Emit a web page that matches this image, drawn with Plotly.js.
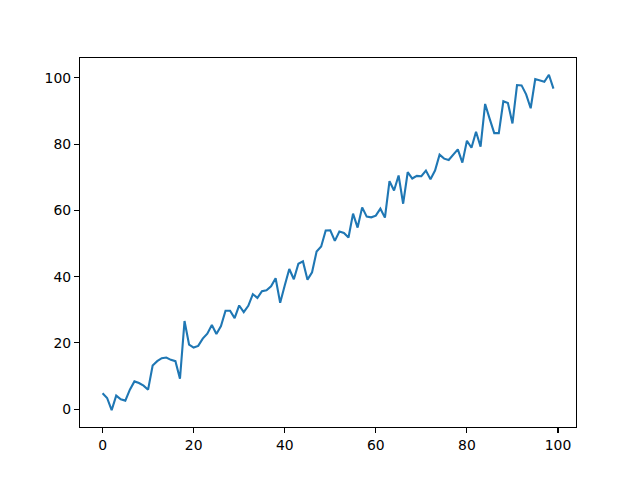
<!DOCTYPE html>
<html>
<head>
<meta charset="utf-8">
<script src="https://cdn.plot.ly/plotly-3.0.1.min.js"></script>
<style>html,body{margin:0;padding:0;background:#fff;}#chart{width:640px;height:480px;}</style>
</head>
<body>
<div id="chart"></div>
<script>
const xValues = Array.from({length: 100}, (_, i) => i);
const yValues = [
  4.8, 3.4, -0.3, 4.1, 3.0, 2.6, 5.9, 8.4, 7.9, 7.1,
  5.9, 13.2, 14.5, 15.4, 15.6, 14.9, 14.5, 9.2, 26.6, 19.5,
  18.6, 19.1, 21.3, 22.8, 25.4, 22.7, 25.1, 29.7, 29.7, 27.5,
  31.3, 29.3, 31.2, 34.7, 33.6, 35.6, 35.9, 37.1, 39.5, 32.1,
  37.3, 42.3, 39.2, 43.9, 44.6, 39.1, 41.3, 47.6, 49.1, 53.9,
  54.0, 50.8, 53.6, 53.2, 51.8, 59.0, 54.8, 60.9, 58.1, 57.9,
  58.4, 60.5, 57.8, 68.8, 66.0, 70.5, 62.0, 71.5, 69.6, 70.4,
  70.3, 72.0, 69.4, 72.0, 76.8, 75.6, 75.2, 76.9, 78.4, 74.4,
  81.0, 78.9, 83.7, 79.2, 92.1, 87.6, 83.3, 83.3, 92.9, 92.4,
  86.2, 97.8, 97.7, 95.0, 90.8, 99.6, 99.2, 98.8, 100.9, 96.7
];
const xTicks = [0, 20, 40, 60, 80, 100];
const yTicks = [0, 20, 40, 60, 80, 100];

const trace = {
  x: xValues, y: yValues, type: 'scatter', mode: 'lines',
  line: {color: '#1f77b4', width: 2.1}
};
const axisCommon = {
  showgrid: false, zeroline: false, showline: true, mirror: true,
  linecolor: 'black', linewidth: 1.1, ticks: 'outside', ticklen: 5,
  tickcolor: 'black', tickwidth: 1.1,
  tickfont: {family: 'DejaVu Sans', size: 13.9, color: 'black'},
  tickmode: 'array'
};
const layout = {
  width: 640, height: 480,
  margin: {l: 80, r: 64, t: 58, b: 53},
  paper_bgcolor: 'white', plot_bgcolor: 'white',
  showlegend: false,
  xaxis: Object.assign({}, axisCommon, {range: [-4.95, 103.95], tickvals: xTicks, ticktext: xTicks.map(String)}),
  yaxis: Object.assign({}, axisCommon, {range: [-5.36, 105.96], tickvals: yTicks, ticktext: yTicks.map(String)})
};
Plotly.newPlot('chart', [trace], layout, {staticPlot: true, displayModeBar: false});
</script>
</body>
</html>
